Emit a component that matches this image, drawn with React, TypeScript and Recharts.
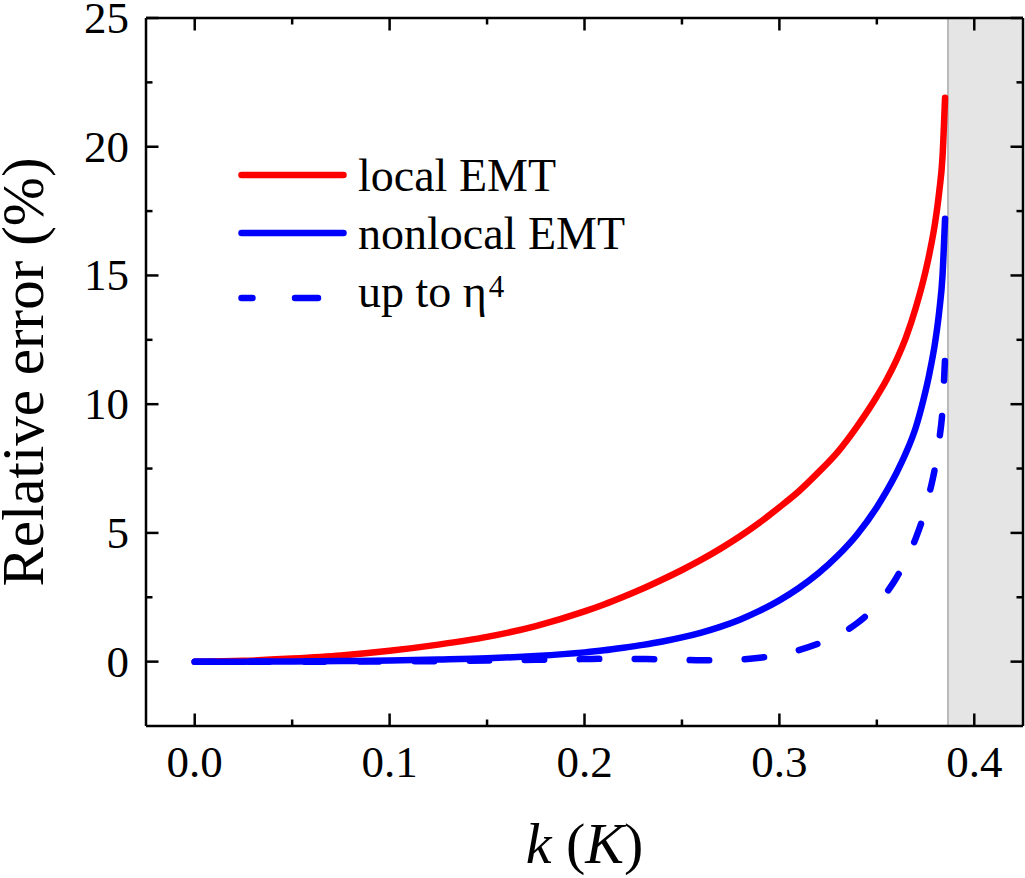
import React from "react";
import {
  LineChart,
  Line,
  XAxis,
  YAxis,
  ReferenceArea,
  ReferenceLine,
  Legend,
  Label,
} from "recharts";

// wave number k (in units of K) and relative error (%) of each model
const kValues = [
  0, 0.025, 0.05, 0.075, 0.1, 0.125, 0.15, 0.175, 0.2, 0.21, 0.22, 0.23, 0.24,
  0.25, 0.26, 0.27, 0.28, 0.29, 0.3, 0.31, 0.32, 0.33, 0.34, 0.35, 0.355, 0.36,
  0.365, 0.37, 0.374, 0.377, 0.38, 0.382, 0.3837, 0.385,
];
const localEmt = [
  0, 0.03, 0.12, 0.24, 0.42, 0.66, 0.96, 1.38, 1.95, 2.22, 2.52, 2.84, 3.19,
  3.56, 3.96, 4.4, 4.88, 5.41, 6.0, 6.62, 7.35, 8.15, 9.15, 10.3, 10.95, 11.7,
  12.6, 13.75, 14.85, 15.85, 17.1, 18.25, 19.6, 21.9,
];
const nonlocalEmt = [
  0, 0, 0.01, 0.02, 0.04, 0.08, 0.13, 0.22, 0.36, 0.44, 0.54, 0.65, 0.78, 0.94,
  1.13, 1.36, 1.64, 1.98, 2.38, 2.86, 3.43, 4.12, 4.95, 6.0, 6.62, 7.32, 8.12,
  9.1, 10.2, 11.2, 12.45, 13.6, 15.0, 17.2,
];
const upToEta4 = [
  0, 0, 0, 0, 0.01, 0.02, 0.04, 0.07, 0.1, 0.11, 0.11, 0.1, 0.09, 0.07, 0.05,
  0.05, 0.08, 0.15, 0.27, 0.45, 0.7, 1.03, 1.5, 2.2, 2.68, 3.25, 3.95, 4.8,
  5.68, 6.55, 7.6, 8.6, 9.8, 11.8,
];

const xTicks = [0, 0.05, 0.1, 0.15, 0.2, 0.25, 0.3, 0.35, 0.4];
const yTicks = [0, 2.5, 5, 7.5, 10, 12.5, 15, 17.5, 20, 22.5, 25];
const xDomain: [number, number] = [-0.025, 0.425];
const yDomain: [number, number] = [-2.5, 25];
const bandEdge = 0.3865;

const series = [
  { key: "local", name: "local EMT", color: "#ff0000", dash: undefined },
  { key: "nonlocal", name: "nonlocal EMT", color: "#0000ff", dash: undefined },
  { key: "eta4", name: "up to η4", color: "#0000ff", dash: "19.5 35.5" },
];

const rows = kValues.map((k, i) => ({
  k,
  local: localEmt[i],
  nonlocal: nonlocalEmt[i],
  eta4: upToEta4[i],
}));

const FONT = '"Liberation Serif", "Times New Roman", Times, serif';
const MAJOR = 12.5;
const MINOR = 6.5;
const AXIS_W = 2.5;

const isMajorX = (v: number) => Math.round(v * 100) % 10 === 0;
const isMajorY = (v: number) => Math.round(v * 10) % 50 === 0;

const BottomTick = (props: any) => {
  const { x, y, payload } = props;
  const major = isMajorX(payload.value);
  return (
    <g>
      <line x1={x} x2={x} y1={y} y2={y - (major ? MAJOR : MINOR)} stroke="#000" strokeWidth={AXIS_W} />
      {major && (
        <text x={x} y={y + 51} textAnchor="middle" fontFamily={FONT} fontSize={45} fill="#000">
          {payload.value.toFixed(1)}
        </text>
      )}
    </g>
  );
};

const TopTick = (props: any) => {
  const { x, y, payload } = props;
  const major = isMajorX(payload.value);
  return <line x1={x} x2={x} y1={y} y2={y + (major ? MAJOR : MINOR)} stroke="#000" strokeWidth={AXIS_W} />;
};

const LeftTick = (props: any) => {
  const { x, y, payload } = props;
  const major = isMajorY(payload.value);
  return (
    <g>
      <line x1={x} x2={x + (major ? MAJOR : MINOR)} y1={y} y2={y} stroke="#000" strokeWidth={AXIS_W} />
      {major && (
        <text x={x - 17} y={y + 15} textAnchor="end" fontFamily={FONT} fontSize={45} fill="#000">
          {payload.value}
        </text>
      )}
    </g>
  );
};

const RightTick = (props: any) => {
  const { x, y, payload } = props;
  const major = isMajorY(payload.value);
  return <line x1={x} x2={x - (major ? MAJOR : MINOR)} y1={y} y2={y} stroke="#000" strokeWidth={AXIS_W} />;
};

// legend rows: sample line y and text baseline
const legendRows = [
  { y: 175, baseline: 191 },
  { y: 233, baseline: 248.5 },
  { y: 298, baseline: 307 },
];

const LegendBox = (props: any) => {
  const payload: any[] = props.payload || [];
  return (
    <svg width={700} height={340} style={{ display: "block" }}>
      {payload.map((entry, i) => {
        const row = legendRows[i];
        const s = series.find((d) => d.name === entry.value);
        const dashed = !!s?.dash;
        const sup = dashed ? entry.value.slice(-1) : null;
        const main = dashed ? entry.value.slice(0, -1) : entry.value;
        return (
          <g key={entry.value}>
            <line
              x1={241.5}
              x2={343.5}
              y1={row.y}
              y2={row.y}
              stroke={entry.color}
              strokeWidth={6.5}
              strokeLinecap="round"
              strokeDasharray={dashed ? "11 42.5 23 200" : undefined}
            />
            <text x={358} y={row.baseline} fontFamily={FONT} fontSize={46} fill="#000">
              {main}
              {sup && (
                <tspan dx={2} dy={-10} fontSize={31}>
                  {sup}
                </tspan>
              )}
            </text>
          </g>
        );
      })}
    </svg>
  );
};

export default function App() {
  return (
    <div style={{ width: 1025, height: 878, background: "#fff" }}>
      <style>{`body{margin:0;background:#fff}`}</style>
      <LineChart
        width={1025}
        height={878}
        data={rows}
        margin={{ top: 17, right: 1, bottom: 151, left: 145 }}
      >
        <ReferenceArea
          x1={bandEdge}
          x2={xDomain[1]}
          y1={yDomain[0]}
          y2={yDomain[1]}
          fill="#c0c0c0"
          fillOpacity={0.42}
          stroke="none"
          ifOverflow="hidden"
        />
        <ReferenceLine x={bandEdge} stroke="#a8a8a8" strokeWidth={1.5} />
        <XAxis
          dataKey="k"
          type="number"
          domain={xDomain}
          ticks={xTicks}
          interval={0}
          allowDataOverflow
          height={1}
          tickSize={0}
          tickMargin={0}
          tickLine={false}
          tick={BottomTick}
          axisLine={{ stroke: "#000", strokeWidth: AXIS_W }}
        >
          <Label
            content={(p: any) => {
              const vb = p.viewBox;
              return (
                <text
                  x={vb.x + vb.width / 2}
                  y={vb.y + 137}
                  textAnchor="middle"
                  fontFamily={FONT}
                  fontSize={58}
                  fill="#000"
                >
                  <tspan fontStyle="italic">k</tspan> (<tspan fontStyle="italic">K</tspan>)
                </text>
              );
            }}
          />
        </XAxis>
        <XAxis
          xAxisId="top"
          orientation="top"
          type="number"
          dataKey="k"
          domain={xDomain}
          ticks={xTicks}
          interval={0}
          allowDataOverflow
          height={1}
          tickSize={0}
          tickMargin={0}
          tickLine={false}
          tick={TopTick}
          axisLine={{ stroke: "#000", strokeWidth: AXIS_W }}
        />
        <YAxis
          type="number"
          domain={yDomain}
          ticks={yTicks}
          interval={0}
          allowDataOverflow
          width={1}
          tickSize={0}
          tickMargin={0}
          tickLine={false}
          tick={LeftTick}
          axisLine={{ stroke: "#000", strokeWidth: AXIS_W }}
        >
          <Label
            content={(p: any) => {
              const vb = p.viewBox;
              const cx = vb.x + vb.width - 103;
              const cy = vb.y + vb.height / 2;
              return (
                <text
                  x={cx}
                  y={cy}
                  transform={`rotate(-90 ${cx} ${cy})`}
                  textAnchor="middle"
                  fontFamily={FONT}
                  fontSize={59}
                  fill="#000"
                >
                  Relative error (%)
                </text>
              );
            }}
          />
        </YAxis>
        <YAxis
          yAxisId="right"
          orientation="right"
          type="number"
          domain={yDomain}
          ticks={yTicks}
          interval={0}
          allowDataOverflow
          width={1}
          tickSize={0}
          tickMargin={0}
          tickLine={false}
          tick={RightTick}
          axisLine={{ stroke: "#000", strokeWidth: AXIS_W }}
        />
        {series.map((s) => (
          <Line
            key={s.key}
            type="monotone"
            dataKey={s.key}
            name={s.name}
            stroke={s.color}
            strokeWidth={6.5}
            strokeLinecap="round"
            strokeDasharray={s.dash}
            dot={false}
            activeDot={false}
            isAnimationActive={false}
          />
        ))}
        <Legend
          layout="horizontal"
          verticalAlign="middle"
          align="center"
          content={LegendBox}
          wrapperStyle={{ position: "absolute", left: 0, top: 0, width: 700, height: 340 }}
        />
      </LineChart>
    </div>
  );
}
